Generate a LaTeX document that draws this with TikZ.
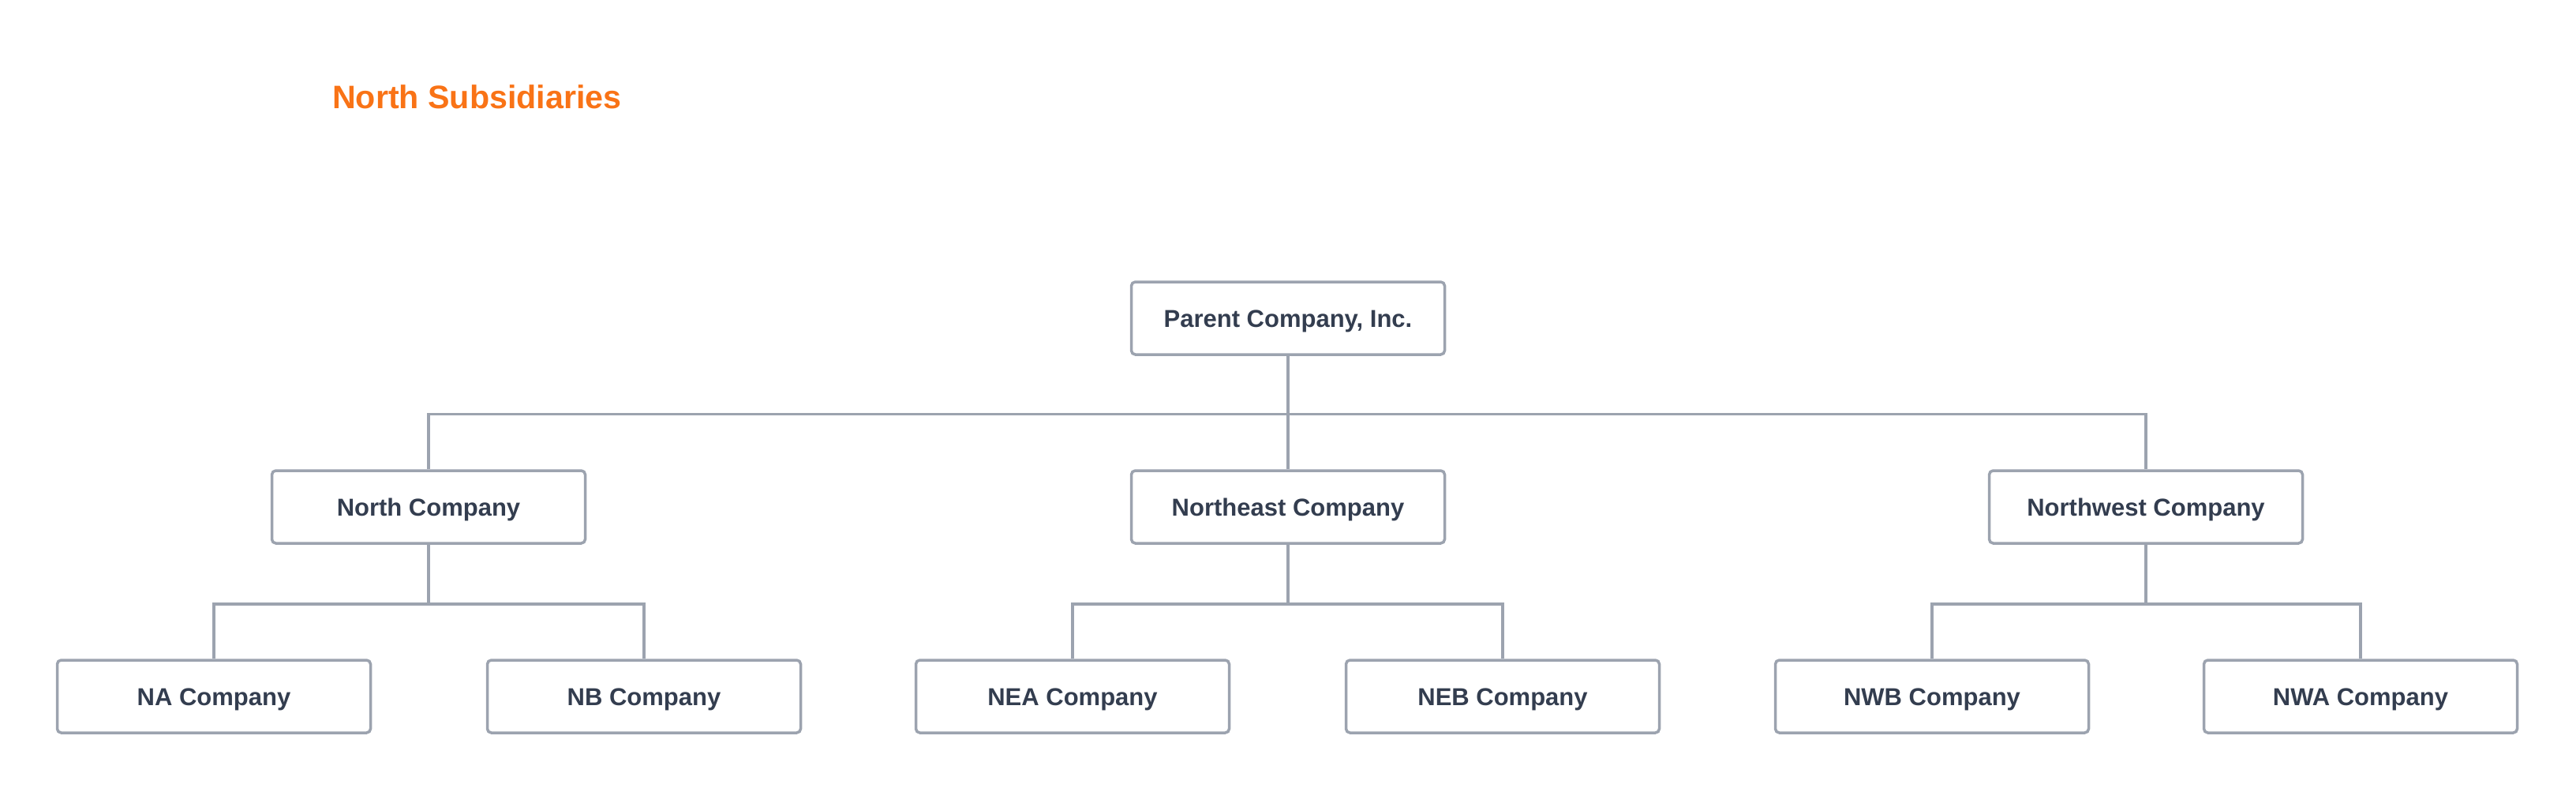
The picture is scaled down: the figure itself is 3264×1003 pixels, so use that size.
\documentclass[tikz,border=0pt]{standalone}
\usepackage{fontspec}
\setmainfont{Liberation Sans}
\usetikzlibrary{calc}
\definecolor{linegray}{HTML}{9CA3AF}
\definecolor{textcol}{HTML}{333D4F}
\definecolor{titlecol}{HTML}{F97316}
\begin{document}
\begin{tikzpicture}[x=1pt,y=-1pt,
  orgbox/.style={draw=linegray, line width=3.5pt, rounded corners=5pt, fill=white,
    minimum width=397pt, minimum height=92pt, text=textcol, inner sep=0pt,
    text height=22.5pt, text depth=0pt,
    font=\fontsize{31}{36}\selectfont\bfseries},
  link/.style={draw=linegray, line width=3.5pt}]
\useasboundingbox (0,0) rectangle (3264,1003);
\node[anchor=base west, text=titlecol, font=\fontsize{41.2}{50}\selectfont\bfseries, inner sep=0pt] (title) at (421,138) {North Subsidiaries};
\node[orgbox] (p) at (1632,403) {Parent Company, Inc.};
\node[orgbox] (n) at (543,642) {North Company};
\node[orgbox] (ne) at (1632,642) {Northeast Company};
\node[orgbox] (nw) at (2719,642) {Northwest Company};
\node[orgbox] (na) at (271,882) {NA Company};
\node[orgbox] (nb) at (816,882) {NB Company};
\node[orgbox] (nea) at (1359,882) {NEA Company};
\node[orgbox] (neb) at (1904,882) {NEB Company};
\node[orgbox] (nwb) at (2448,882) {NWB Company};
\node[orgbox] (nwa) at (2991,882) {NWA Company};
\foreach \c in {n,ne,nw}{\draw[link] (p.south) -- ++(0,73.5) -| (\c.north);}
\foreach \pp/\a/\b in {n/na/nb, ne/nea/neb, nw/nwb/nwa}{
  \draw[link] (\a.north) |- ($(\pp.south)+(0,75)$) -| (\b.north);
  \draw[link] (\pp.south) -- ++(0,75);
}
\end{tikzpicture}
\end{document}
